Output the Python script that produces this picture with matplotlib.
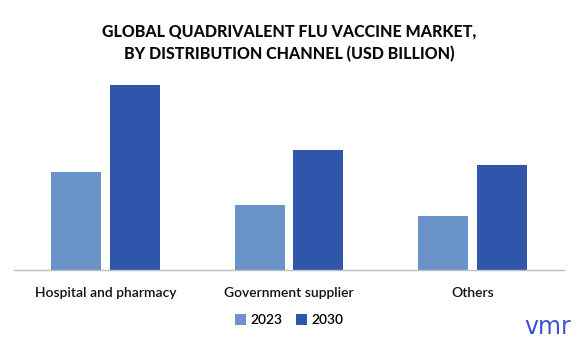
import numpy as np
import matplotlib
matplotlib.use("Agg")
import matplotlib.pyplot as plt

channels = ["Hospital and pharmacy", "Government supplier", "Others"]
years = ["2023", "2030"]
values_2023 = [1.96, 1.30, 1.08]
values_2030 = [3.70, 2.40, 2.10]

color_2023 = "#6a93c9"
color_2030 = "#2f56ab"

fig = plt.figure(figsize=(5.78, 3.43), dpi=100)
ax = fig.add_axes([0.0242, 0.2128, 0.9516, 0.5685])

x = np.arange(len(channels))
width = 0.273
offset = 0.16
ax.bar(x - offset, values_2023, width, color=color_2023, label=years[0])
ax.bar(x + offset, values_2030, width, color=color_2030, label=years[1])

ax.set_xlim(-0.5, len(channels) - 0.5)
ax.set_ylim(0, 3.9)
ax.set_yticks([])
for side in ["left", "right", "top"]:
    ax.spines[side].set_visible(False)
ax.spines["bottom"].set_color("#bfbfbf")
ax.spines["bottom"].set_linewidth(1.0)
ax.set_xticks(x)
ax.set_xticklabels(channels, fontsize=10, family="Lato", fontweight="semibold", color="#111111")
ax.tick_params(axis="x", length=0, pad=12)

fig.text(0.5, 0.932, "GLOBAL QUADRIVALENT FLU VACCINE MARKET,\nBY DISTRIBUTION CHANNEL (USD BILLION)",
         ha="center", va="top", fontsize=11.5, fontweight="black", family="Lato",
         linespacing=1.5, color="#0a0a0a")

leg = fig.legend(loc="center", bbox_to_anchor=(0.5, 0.067), ncol=2, frameon=False,
                 prop={"family": "Lato", "size": 10, "weight": "semibold"},
                 handlelength=0.8, handleheight=0.8, handletextpad=0.3, columnspacing=1.0)

# company mark in the lower right corner
fig.text(0.948, 0.047, "vmr", ha="center", va="center", fontsize=17,
         family="DejaVu Sans", color="#3d50d6")

fig.savefig("out.png", dpi=100)
